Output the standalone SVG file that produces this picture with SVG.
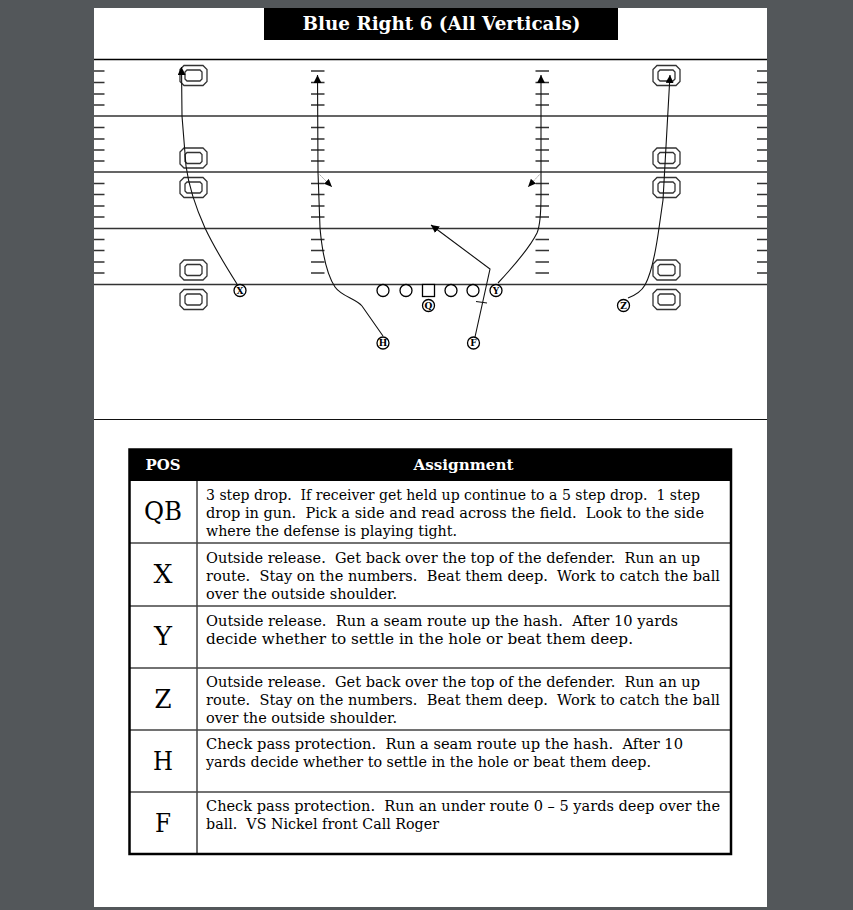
<svg xmlns="http://www.w3.org/2000/svg" width="853" height="910" viewBox="0 0 853 910">
<style>
text{font-family:"DejaVu Serif","Liberation Serif",serif;fill:#000;white-space:pre}
.yard{stroke:#333;stroke-width:1.3;fill:none}
.hash{stroke:#333;stroke-width:1.3;fill:none}
.def{fill:none;stroke:#333;stroke-width:1.300}
.o{fill:#fff;stroke:#000;stroke-width:1.300}
.l{font-size:9px;font-weight:700;text-anchor:middle}
.r{fill:none;stroke:#111;stroke-width:1.100}
.b{fill:none;stroke:#777;stroke-width:.7;stroke-dasharray:2 1}
.t{font-size:14px}
.p{font-size:26px;text-anchor:middle}
.grid{stroke:#444;stroke-width:1.5;fill:none}
</style>
<defs>
<marker id="ah" viewBox="0 0 8 8" refX="8" refY="4" markerWidth="8" markerHeight="8" markerUnits="userSpaceOnUse" orient="auto"><path d="M0 0L8 4L0 8z" fill="#000"/></marker>
<marker id="as" viewBox="0 0 8 7" refX="8" refY="3.500" markerWidth="8" markerHeight="7" markerUnits="userSpaceOnUse" orient="auto"><path d="M0 0L8 3.500L0 7z" fill="#000"/></marker>
<g id="dbox"><path class="def" d="M4 0H23L27 4V16L23 20H4L0 16V4z"/><path class="def" d="M7 4.500H20L22 6.500V13.500L20 15.500H7L5 13.500V6.500z"/></g>
</defs>
<rect width="853" height="910" fill="#53575a"/>
<rect x="94" y="8" width="673" height="899" fill="#fff"/>
<g id="title"><rect x="264" y="8" width="354" height="32" fill="#000"/><text x="441.500" y="30" font-size="18" font-weight="700" text-anchor="middle" style="fill:#fff" textLength="278" lengthAdjust="spacingAndGlyphs">Blue Right 6 (All Verticals)</text></g>
<g id="field">
<path d="M94 59.500H767" stroke="#000" stroke-width="1.300"/>
<path class="yard" d="M94 116H767M94 172H767M94 228.500H767M94 284.500H767"/>
<path d="M94 419.500H767" stroke="#111" stroke-width="1"/>
<path class="hash" d="M94 71H104.500M94 82.500H104.500M94 94H104.500M94 105H104.500M94 127.500H104.500M94 139H104.500M94 150H104.500M94 161H104.500M94 183.500H104.500M94 194.500H104.500M94 206H104.500M94 217H104.500M94 239.500H104.500M94 250.500H104.500M94 262H104.500M94 273H104.500"/>
<path class="hash" d="M311 71H324.500M311 82.500H324.500M311 94H324.500M311 105H324.500M311 127.500H324.500M311 139H324.500M311 150H324.500M311 161H324.500M311 183.500H324.500M311 194.500H324.500M311 206H324.500M311 217H324.500M311 239.500H324.500M311 250.500H324.500M311 262H324.500M311 273H324.500"/>
<path class="hash" d="M535.500 71H549M535.500 82.500H549M535.500 94H549M535.500 105H549M535.500 127.500H549M535.500 139H549M535.500 150H549M535.500 161H549M535.500 183.500H549M535.500 194.500H549M535.500 206H549M535.500 217H549M535.500 239.500H549M535.500 250.500H549M535.500 262H549M535.500 273H549"/>
<path class="hash" d="M757 71H767M757 82.500H767M757 94H767M757 105H767M757 127.500H767M757 139H767M757 150H767M757 161H767M757 183.500H767M757 194.500H767M757 206H767M757 217H767M757 239.500H767M757 250.500H767M757 262H767M757 273H767"/>
</g>
<g id="def-l1"><use href="#dbox" x="180" y="65.500"/></g>
<g id="def-l2"><use href="#dbox" x="180" y="148"/></g>
<g id="def-l3"><use href="#dbox" x="180" y="177.500"/></g>
<g id="def-l4"><use href="#dbox" x="180" y="260"/></g>
<g id="def-l5"><use href="#dbox" x="180" y="289.500"/></g>
<g id="def-r1"><use href="#dbox" x="653" y="65.500"/></g>
<g id="def-r2"><use href="#dbox" x="653" y="148"/></g>
<g id="def-r3"><use href="#dbox" x="653" y="177.500"/></g>
<g id="def-r4"><use href="#dbox" x="653" y="260"/></g>
<g id="def-r5"><use href="#dbox" x="653" y="289.500"/></g>
<g id="connectors">
<path class="r" marker-end="url(#ah)" d="M237 284C225 265 213 245 205 228C196 208 189 188 186 166L182 116L181.500 67"/>
<path class="r" marker-end="url(#ah)" d="M383 336L362 306C356 299 341 296 335 287C327 275 322 250 320 228L319 200L318 172L317.500 75"/>
<path class="b" marker-end="url(#as)" d="M318 173L332 187"/>
<path class="r" marker-end="url(#ah)" d="M498 283C512 268 530 247 537 233C540 226 541 212 541 195L541 75"/>
<path class="b" marker-end="url(#as)" d="M541 173L528 187"/>
<path class="r" marker-end="url(#ah)" d="M628 298C636 295 641 292 645 285C650 276 655 257 659 228L663 200L670 75"/>
<path class="r" marker-end="url(#ah)" d="M475 337L490 269L431 225"/>
<path class="r" d="M476 301.500L487 303"/>
</g>
<g id="X"><circle class="o" cx="240" cy="290.500" r="6"/><text class="l" x="240" y="293.500">X</text></g>
<g id="LT"><circle class="o" cx="383" cy="290.500" r="6"/></g>
<g id="LG"><circle class="o" cx="406" cy="290.500" r="6"/></g>
<g id="C"><rect class="o" x="422.500" y="284.500" width="12" height="12"/></g>
<g id="RG"><circle class="o" cx="451" cy="290.500" r="6"/></g>
<g id="RT"><circle class="o" cx="473" cy="290.500" r="6"/></g>
<g id="Y"><circle class="o" cx="496" cy="290.500" r="6"/><text class="l" x="496" y="293.500">Y</text></g>
<g id="Q"><circle class="o" cx="428.500" cy="305.500" r="6"/><text class="l" x="428.500" y="308.500">Q</text></g>
<g id="Z"><circle class="o" cx="623.500" cy="305.500" r="6"/><text class="l" x="623.500" y="308.500">Z</text></g>
<g id="H"><circle class="o" cx="383" cy="343" r="6"/><text class="l" x="383" y="346">H</text></g>
<g id="F"><circle class="o" cx="473.500" cy="343" r="6"/><text class="l" x="473.500" y="346">F</text></g>
<g id="table">
<rect x="129" y="449" width="602" height="32" fill="#000"/>
<text x="163" y="470" font-size="14" font-weight="700" text-anchor="middle" style="fill:#fff" textLength="35" lengthAdjust="spacingAndGlyphs">POS</text>
<text x="463.500" y="470" font-size="14" font-weight="700" text-anchor="middle" style="fill:#fff" textLength="100" lengthAdjust="spacingAndGlyphs">Assignment</text>
<path class="grid" d="M129 543H731M129 606H731M129 668H731M129 730H731M129 792H731M197 481V854"/>
<rect x="129.500" y="449.500" width="601.500" height="404.500" fill="none" stroke="#000" stroke-width="2.500"/>
<text class="p" x="163" y="520" textLength="38" lengthAdjust="spacingAndGlyphs">QB</text>
<text class="t" x="206" y="499.500" textLength="494" lengthAdjust="spacingAndGlyphs">3 step drop.  If receiver get held up continue to a 5 step drop.  1 step</text>
<text class="t" x="206" y="517.500" textLength="498" lengthAdjust="spacingAndGlyphs">drop in gun.  Pick a side and read across the field.  Look to the side</text>
<text class="t" x="206" y="535.500" textLength="251" lengthAdjust="spacingAndGlyphs">where the defense is playing tight.</text>
<text class="p" x="163" y="583" textLength="19" lengthAdjust="spacingAndGlyphs">X</text>
<text class="t" x="206" y="562.500" textLength="494" lengthAdjust="spacingAndGlyphs">Outside release.  Get back over the top of the defender.  Run an up</text>
<text class="t" x="206" y="580.500" textLength="514" lengthAdjust="spacingAndGlyphs">route.  Stay on the numbers.  Beat them deep.  Work to catch the ball</text>
<text class="t" x="206" y="598.500" textLength="191" lengthAdjust="spacingAndGlyphs">over the outside shoulder.</text>
<text class="p" x="163" y="645" textLength="18" lengthAdjust="spacingAndGlyphs">Y</text>
<text class="t" x="206" y="625.500" textLength="472" lengthAdjust="spacingAndGlyphs">Outside release.  Run a seam route up the hash.  After 10 yards</text>
<text class="t" x="206" y="643.500" textLength="427" lengthAdjust="spacingAndGlyphs">decide whether to settle in the hole or beat them deep.</text>
<text class="p" x="163" y="708" textLength="17" lengthAdjust="spacingAndGlyphs">Z</text>
<text class="t" x="206" y="686.500" textLength="494" lengthAdjust="spacingAndGlyphs">Outside release.  Get back over the top of the defender.  Run an up</text>
<text class="t" x="206" y="704.500" textLength="514" lengthAdjust="spacingAndGlyphs">route.  Stay on the numbers.  Beat them deep.  Work to catch the ball</text>
<text class="t" x="206" y="722.500" textLength="191" lengthAdjust="spacingAndGlyphs">over the outside shoulder.</text>
<text class="p" x="163" y="770" textLength="20" lengthAdjust="spacingAndGlyphs">H</text>
<text class="t" x="206" y="749" textLength="477" lengthAdjust="spacingAndGlyphs">Check pass protection.  Run a seam route up the hash.  After 10</text>
<text class="t" x="206" y="767" textLength="445" lengthAdjust="spacingAndGlyphs">yards decide whether to settle in the hole or beat them deep.</text>
<text class="p" x="163" y="832" textLength="16" lengthAdjust="spacingAndGlyphs">F</text>
<text class="t" x="206" y="811" textLength="514" lengthAdjust="spacingAndGlyphs">Check pass protection.  Run an under route 0 – 5 yards deep over the</text>
<text class="t" x="206" y="829" textLength="233" lengthAdjust="spacingAndGlyphs">ball.  VS Nickel front Call Roger</text>
</g>
</svg>
